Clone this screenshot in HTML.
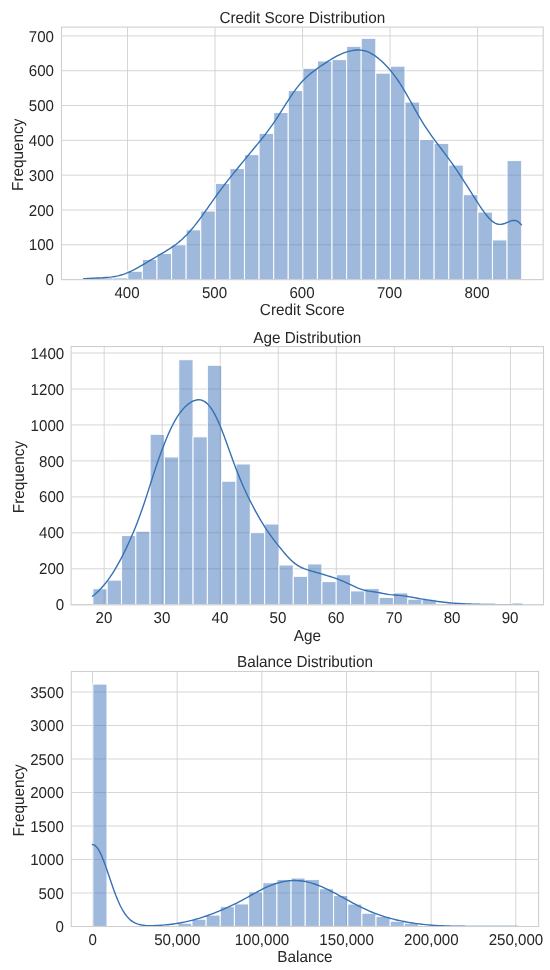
<!DOCTYPE html>
<html><head><meta charset="utf-8"><title>Distributions</title>
<style>
html,body{margin:0;padding:0;background:#fff;}
body{width:550px;height:970px;overflow:hidden;}
svg{display:block;font-family:"Liberation Sans",sans-serif;fill:#262626;text-rendering:geometricPrecision;}
</style></head><body>
<svg width="550" height="970" viewBox="0 0 550 970">
<rect width="550" height="970" fill="#ffffff"/>
<g>
<clipPath id="clip1"><rect x="61.50" y="27.10" width="481.70" height="252.50"/></clipPath>
<line x1="127.50" y1="27.10" x2="127.50" y2="279.60" stroke="#cfcfcf" stroke-width="0.85"/>
<line x1="215.02" y1="27.10" x2="215.02" y2="279.60" stroke="#cfcfcf" stroke-width="0.85"/>
<line x1="302.55" y1="27.10" x2="302.55" y2="279.60" stroke="#cfcfcf" stroke-width="0.85"/>
<line x1="390.07" y1="27.10" x2="390.07" y2="279.60" stroke="#cfcfcf" stroke-width="0.85"/>
<line x1="477.60" y1="27.10" x2="477.60" y2="279.60" stroke="#cfcfcf" stroke-width="0.85"/>
<line x1="61.50" y1="279.60" x2="543.20" y2="279.60" stroke="#cfcfcf" stroke-width="0.85"/>
<line x1="61.50" y1="244.79" x2="543.20" y2="244.79" stroke="#cfcfcf" stroke-width="0.85"/>
<line x1="61.50" y1="209.97" x2="543.20" y2="209.97" stroke="#cfcfcf" stroke-width="0.85"/>
<line x1="61.50" y1="175.16" x2="543.20" y2="175.16" stroke="#cfcfcf" stroke-width="0.85"/>
<line x1="61.50" y1="140.34" x2="543.20" y2="140.34" stroke="#cfcfcf" stroke-width="0.85"/>
<line x1="61.50" y1="105.53" x2="543.20" y2="105.53" stroke="#cfcfcf" stroke-width="0.85"/>
<line x1="61.50" y1="70.72" x2="543.20" y2="70.72" stroke="#cfcfcf" stroke-width="0.85"/>
<line x1="61.50" y1="35.90" x2="543.20" y2="35.90" stroke="#cfcfcf" stroke-width="0.85"/>
<rect x="84.04" y="277.86" width="14.59" height="1.74" fill="#3D73B7" fill-opacity="0.5" stroke="#ffffff" stroke-opacity="0.9" stroke-width="1.1"/>
<rect x="98.63" y="277.86" width="14.59" height="1.74" fill="#3D73B7" fill-opacity="0.5" stroke="#ffffff" stroke-opacity="0.9" stroke-width="1.1"/>
<rect x="113.21" y="277.86" width="14.59" height="1.74" fill="#3D73B7" fill-opacity="0.5" stroke="#ffffff" stroke-opacity="0.9" stroke-width="1.1"/>
<rect x="127.80" y="271.24" width="14.59" height="8.36" fill="#3D73B7" fill-opacity="0.5" stroke="#ffffff" stroke-opacity="0.9" stroke-width="1.1"/>
<rect x="142.39" y="259.41" width="14.59" height="20.19" fill="#3D73B7" fill-opacity="0.5" stroke="#ffffff" stroke-opacity="0.9" stroke-width="1.1"/>
<rect x="156.98" y="253.49" width="14.59" height="26.11" fill="#3D73B7" fill-opacity="0.5" stroke="#ffffff" stroke-opacity="0.9" stroke-width="1.1"/>
<rect x="171.56" y="244.79" width="14.59" height="34.81" fill="#3D73B7" fill-opacity="0.5" stroke="#ffffff" stroke-opacity="0.9" stroke-width="1.1"/>
<rect x="186.15" y="229.82" width="14.59" height="49.78" fill="#3D73B7" fill-opacity="0.5" stroke="#ffffff" stroke-opacity="0.9" stroke-width="1.1"/>
<rect x="200.74" y="211.02" width="14.59" height="68.58" fill="#3D73B7" fill-opacity="0.5" stroke="#ffffff" stroke-opacity="0.9" stroke-width="1.1"/>
<rect x="215.32" y="183.51" width="14.59" height="96.09" fill="#3D73B7" fill-opacity="0.5" stroke="#ffffff" stroke-opacity="0.9" stroke-width="1.1"/>
<rect x="229.91" y="168.54" width="14.59" height="111.06" fill="#3D73B7" fill-opacity="0.5" stroke="#ffffff" stroke-opacity="0.9" stroke-width="1.1"/>
<rect x="244.50" y="154.62" width="14.59" height="124.98" fill="#3D73B7" fill-opacity="0.5" stroke="#ffffff" stroke-opacity="0.9" stroke-width="1.1"/>
<rect x="259.09" y="133.38" width="14.59" height="146.22" fill="#3D73B7" fill-opacity="0.5" stroke="#ffffff" stroke-opacity="0.9" stroke-width="1.1"/>
<rect x="273.68" y="112.49" width="14.59" height="167.11" fill="#3D73B7" fill-opacity="0.5" stroke="#ffffff" stroke-opacity="0.9" stroke-width="1.1"/>
<rect x="288.26" y="90.56" width="14.59" height="189.04" fill="#3D73B7" fill-opacity="0.5" stroke="#ffffff" stroke-opacity="0.9" stroke-width="1.1"/>
<rect x="302.85" y="68.28" width="14.59" height="211.32" fill="#3D73B7" fill-opacity="0.5" stroke="#ffffff" stroke-opacity="0.9" stroke-width="1.1"/>
<rect x="317.44" y="60.97" width="14.59" height="218.63" fill="#3D73B7" fill-opacity="0.5" stroke="#ffffff" stroke-opacity="0.9" stroke-width="1.1"/>
<rect x="332.03" y="59.58" width="14.59" height="220.02" fill="#3D73B7" fill-opacity="0.5" stroke="#ffffff" stroke-opacity="0.9" stroke-width="1.1"/>
<rect x="346.61" y="46.35" width="14.59" height="233.25" fill="#3D73B7" fill-opacity="0.5" stroke="#ffffff" stroke-opacity="0.9" stroke-width="1.1"/>
<rect x="361.20" y="38.34" width="14.59" height="241.26" fill="#3D73B7" fill-opacity="0.5" stroke="#ffffff" stroke-opacity="0.9" stroke-width="1.1"/>
<rect x="375.79" y="73.15" width="14.59" height="206.45" fill="#3D73B7" fill-opacity="0.5" stroke="#ffffff" stroke-opacity="0.9" stroke-width="1.1"/>
<rect x="390.38" y="66.19" width="14.59" height="213.41" fill="#3D73B7" fill-opacity="0.5" stroke="#ffffff" stroke-opacity="0.9" stroke-width="1.1"/>
<rect x="404.96" y="102.05" width="14.59" height="177.55" fill="#3D73B7" fill-opacity="0.5" stroke="#ffffff" stroke-opacity="0.9" stroke-width="1.1"/>
<rect x="419.55" y="139.65" width="14.59" height="139.95" fill="#3D73B7" fill-opacity="0.5" stroke="#ffffff" stroke-opacity="0.9" stroke-width="1.1"/>
<rect x="434.14" y="143.48" width="14.59" height="136.12" fill="#3D73B7" fill-opacity="0.5" stroke="#ffffff" stroke-opacity="0.9" stroke-width="1.1"/>
<rect x="448.73" y="165.06" width="14.59" height="114.54" fill="#3D73B7" fill-opacity="0.5" stroke="#ffffff" stroke-opacity="0.9" stroke-width="1.1"/>
<rect x="463.31" y="194.65" width="14.59" height="84.95" fill="#3D73B7" fill-opacity="0.5" stroke="#ffffff" stroke-opacity="0.9" stroke-width="1.1"/>
<rect x="477.90" y="212.06" width="14.59" height="67.54" fill="#3D73B7" fill-opacity="0.5" stroke="#ffffff" stroke-opacity="0.9" stroke-width="1.1"/>
<rect x="492.49" y="239.91" width="14.59" height="39.69" fill="#3D73B7" fill-opacity="0.5" stroke="#ffffff" stroke-opacity="0.9" stroke-width="1.1"/>
<rect x="507.08" y="160.54" width="14.59" height="119.06" fill="#3D73B7" fill-opacity="0.5" stroke="#ffffff" stroke-opacity="0.9" stroke-width="1.1"/>
<polyline clip-path="url(#clip1)" points="83.74,278.72 85.94,278.60 88.14,278.49 90.33,278.38 92.53,278.27 94.73,278.17 96.93,278.06 99.13,277.95 101.33,277.84 103.53,277.71 105.73,277.55 107.93,277.36 110.13,277.13 112.33,276.85 114.53,276.50 116.72,276.09 118.92,275.59 121.12,275.01 123.32,274.33 125.52,273.57 127.72,272.71 129.92,271.76 132.12,270.73 134.32,269.63 136.52,268.46 138.72,267.23 140.91,265.96 143.11,264.66 145.31,263.35 147.51,262.02 149.71,260.70 151.91,259.38 154.11,258.07 156.31,256.77 158.51,255.48 160.71,254.18 162.91,252.88 165.10,251.56 167.30,250.21 169.50,248.82 171.70,247.36 173.90,245.84 176.10,244.22 178.30,242.50 180.50,240.66 182.70,238.70 184.90,236.61 187.10,234.39 189.30,232.02 191.49,229.52 193.69,226.89 195.89,224.14 198.09,221.28 200.29,218.33 202.49,215.29 204.69,212.20 206.89,209.07 209.09,205.93 211.29,202.78 213.49,199.66 215.68,196.57 217.88,193.53 220.08,190.55 222.28,187.62 224.48,184.74 226.68,181.92 228.88,179.13 231.08,176.38 233.28,173.65 235.48,170.94 237.68,168.23 239.88,165.53 242.07,162.83 244.27,160.14 246.47,157.45 248.67,154.78 250.87,152.11 253.07,149.45 255.27,146.79 257.47,144.13 259.67,141.44 261.87,138.72 264.07,135.96 266.26,133.12 268.46,130.20 270.66,127.19 272.86,124.07 275.06,120.85 277.26,117.53 279.46,114.14 281.66,110.68 283.86,107.19 286.06,103.71 288.26,100.27 290.45,96.91 292.65,93.66 294.85,90.56 297.05,87.63 299.25,84.88 301.45,82.33 303.65,79.97 305.85,77.79 308.05,75.77 310.25,73.90 312.45,72.13 314.65,70.46 316.84,68.86 319.04,67.30 321.24,65.79 323.44,64.30 325.64,62.84 327.84,61.41 330.04,60.02 332.24,58.68 334.44,57.41 336.64,56.21 338.84,55.10 341.03,54.08 343.23,53.17 345.43,52.36 347.63,51.65 349.83,51.06 352.03,50.59 354.23,50.25 356.43,50.04 358.63,50.00 360.83,50.12 363.03,50.44 365.22,50.96 367.42,51.69 369.62,52.64 371.82,53.79 374.02,55.15 376.22,56.69 378.42,58.41 380.62,60.28 382.82,62.29 385.02,64.45 387.22,66.75 389.42,69.20 391.61,71.82 393.81,74.61 396.01,77.58 398.21,80.75 400.41,84.10 402.61,87.62 404.81,91.31 407.01,95.11 409.21,99.01 411.41,102.95 413.61,106.90 415.80,110.83 418.00,114.68 420.20,118.44 422.40,122.09 424.60,125.60 426.80,128.98 429.00,132.23 431.20,135.37 433.40,138.40 435.60,141.36 437.80,144.26 440.00,147.15 442.19,150.03 444.39,152.93 446.59,155.86 448.79,158.86 450.99,161.91 453.19,165.02 455.39,168.21 457.59,171.45 459.79,174.76 461.99,178.12 464.19,181.52 466.38,184.95 468.58,188.41 470.78,191.89 472.98,195.36 475.18,198.82 477.38,202.24 479.58,205.59 481.78,208.83 483.98,211.93 486.18,214.82 488.38,217.45 490.57,219.74 492.77,221.63 494.97,223.06 497.17,223.98 499.37,224.38 501.57,224.30 503.77,223.79 505.97,222.98 508.17,222.03 510.37,221.15 512.57,220.55 514.77,220.44 516.96,221.02 519.16,222.42 521.36,224.72" fill="none" stroke="#3671B3" stroke-width="1.4" stroke-linejoin="round" stroke-linecap="round"/>
<rect x="61.50" y="27.10" width="481.70" height="252.50" fill="none" stroke="#cfcfcf" stroke-width="1.1"/>
<text transform="translate(127.00,298.40) scale(1,1.04)" font-size="15.1" text-anchor="middle">400</text>
<text transform="translate(214.52,298.40) scale(1,1.04)" font-size="15.1" text-anchor="middle">500</text>
<text transform="translate(302.05,298.40) scale(1,1.04)" font-size="15.1" text-anchor="middle">600</text>
<text transform="translate(389.57,298.40) scale(1,1.04)" font-size="15.1" text-anchor="middle">700</text>
<text transform="translate(477.10,298.40) scale(1,1.04)" font-size="15.1" text-anchor="middle">800</text>
<text transform="translate(54.00,285.22) scale(1,1.04)" font-size="15.1" text-anchor="end">0</text>
<text transform="translate(54.00,250.41) scale(1,1.04)" font-size="15.1" text-anchor="end">100</text>
<text transform="translate(54.00,215.59) scale(1,1.04)" font-size="15.1" text-anchor="end">200</text>
<text transform="translate(54.00,180.78) scale(1,1.04)" font-size="15.1" text-anchor="end">300</text>
<text transform="translate(54.00,145.97) scale(1,1.04)" font-size="15.1" text-anchor="end">400</text>
<text transform="translate(54.00,111.15) scale(1,1.04)" font-size="15.1" text-anchor="end">500</text>
<text transform="translate(54.00,76.34) scale(1,1.04)" font-size="15.1" text-anchor="end">600</text>
<text transform="translate(54.00,41.52) scale(1,1.04)" font-size="15.1" text-anchor="end">700</text>
<text transform="translate(302.35,22.60) scale(1,1.04)" font-size="15.3" text-anchor="middle">Credit Score Distribution</text>
<text transform="translate(302.35,315.30) scale(1,1.04)" font-size="15.3" text-anchor="middle">Credit Score</text>
<text transform="translate(22.90,154.75) rotate(-90) scale(1,1.04)" font-size="15.3" text-anchor="middle">Frequency</text>
</g>
<g>
<clipPath id="clip2"><rect x="71.10" y="346.55" width="472.40" height="258.20"/></clipPath>
<line x1="104.18" y1="346.55" x2="104.18" y2="604.75" stroke="#cfcfcf" stroke-width="0.85"/>
<line x1="162.21" y1="346.55" x2="162.21" y2="604.75" stroke="#cfcfcf" stroke-width="0.85"/>
<line x1="220.25" y1="346.55" x2="220.25" y2="604.75" stroke="#cfcfcf" stroke-width="0.85"/>
<line x1="278.28" y1="346.55" x2="278.28" y2="604.75" stroke="#cfcfcf" stroke-width="0.85"/>
<line x1="336.32" y1="346.55" x2="336.32" y2="604.75" stroke="#cfcfcf" stroke-width="0.85"/>
<line x1="394.35" y1="346.55" x2="394.35" y2="604.75" stroke="#cfcfcf" stroke-width="0.85"/>
<line x1="452.39" y1="346.55" x2="452.39" y2="604.75" stroke="#cfcfcf" stroke-width="0.85"/>
<line x1="510.42" y1="346.55" x2="510.42" y2="604.75" stroke="#cfcfcf" stroke-width="0.85"/>
<line x1="71.10" y1="604.75" x2="543.50" y2="604.75" stroke="#cfcfcf" stroke-width="0.85"/>
<line x1="71.10" y1="568.79" x2="543.50" y2="568.79" stroke="#cfcfcf" stroke-width="0.85"/>
<line x1="71.10" y1="532.83" x2="543.50" y2="532.83" stroke="#cfcfcf" stroke-width="0.85"/>
<line x1="71.10" y1="496.87" x2="543.50" y2="496.87" stroke="#cfcfcf" stroke-width="0.85"/>
<line x1="71.10" y1="460.91" x2="543.50" y2="460.91" stroke="#cfcfcf" stroke-width="0.85"/>
<line x1="71.10" y1="424.95" x2="543.50" y2="424.95" stroke="#cfcfcf" stroke-width="0.85"/>
<line x1="71.10" y1="388.99" x2="543.50" y2="388.99" stroke="#cfcfcf" stroke-width="0.85"/>
<line x1="71.10" y1="353.03" x2="543.50" y2="353.03" stroke="#cfcfcf" stroke-width="0.85"/>
<rect x="92.87" y="588.75" width="14.32" height="16.00" fill="#3D73B7" fill-opacity="0.5" stroke="#ffffff" stroke-opacity="0.9" stroke-width="1.1"/>
<rect x="107.19" y="580.12" width="14.32" height="24.63" fill="#3D73B7" fill-opacity="0.5" stroke="#ffffff" stroke-opacity="0.9" stroke-width="1.1"/>
<rect x="121.50" y="535.53" width="14.32" height="69.22" fill="#3D73B7" fill-opacity="0.5" stroke="#ffffff" stroke-opacity="0.9" stroke-width="1.1"/>
<rect x="135.82" y="531.21" width="14.32" height="73.54" fill="#3D73B7" fill-opacity="0.5" stroke="#ffffff" stroke-opacity="0.9" stroke-width="1.1"/>
<rect x="150.13" y="434.30" width="14.32" height="170.45" fill="#3D73B7" fill-opacity="0.5" stroke="#ffffff" stroke-opacity="0.9" stroke-width="1.1"/>
<rect x="164.45" y="456.95" width="14.32" height="147.80" fill="#3D73B7" fill-opacity="0.5" stroke="#ffffff" stroke-opacity="0.9" stroke-width="1.1"/>
<rect x="178.76" y="359.68" width="14.32" height="245.07" fill="#3D73B7" fill-opacity="0.5" stroke="#ffffff" stroke-opacity="0.9" stroke-width="1.1"/>
<rect x="193.08" y="436.82" width="14.32" height="167.93" fill="#3D73B7" fill-opacity="0.5" stroke="#ffffff" stroke-opacity="0.9" stroke-width="1.1"/>
<rect x="207.39" y="365.26" width="14.32" height="239.49" fill="#3D73B7" fill-opacity="0.5" stroke="#ffffff" stroke-opacity="0.9" stroke-width="1.1"/>
<rect x="221.71" y="481.23" width="14.32" height="123.52" fill="#3D73B7" fill-opacity="0.5" stroke="#ffffff" stroke-opacity="0.9" stroke-width="1.1"/>
<rect x="236.02" y="463.97" width="14.32" height="140.78" fill="#3D73B7" fill-opacity="0.5" stroke="#ffffff" stroke-opacity="0.9" stroke-width="1.1"/>
<rect x="250.34" y="532.65" width="14.32" height="72.10" fill="#3D73B7" fill-opacity="0.5" stroke="#ffffff" stroke-opacity="0.9" stroke-width="1.1"/>
<rect x="264.65" y="524.02" width="14.32" height="80.73" fill="#3D73B7" fill-opacity="0.5" stroke="#ffffff" stroke-opacity="0.9" stroke-width="1.1"/>
<rect x="278.97" y="565.01" width="14.32" height="39.74" fill="#3D73B7" fill-opacity="0.5" stroke="#ffffff" stroke-opacity="0.9" stroke-width="1.1"/>
<rect x="293.28" y="576.34" width="14.32" height="28.41" fill="#3D73B7" fill-opacity="0.5" stroke="#ffffff" stroke-opacity="0.9" stroke-width="1.1"/>
<rect x="307.60" y="563.94" width="14.32" height="40.81" fill="#3D73B7" fill-opacity="0.5" stroke="#ffffff" stroke-opacity="0.9" stroke-width="1.1"/>
<rect x="321.92" y="581.56" width="14.32" height="23.19" fill="#3D73B7" fill-opacity="0.5" stroke="#ffffff" stroke-opacity="0.9" stroke-width="1.1"/>
<rect x="336.23" y="574.72" width="14.32" height="30.03" fill="#3D73B7" fill-opacity="0.5" stroke="#ffffff" stroke-opacity="0.9" stroke-width="1.1"/>
<rect x="350.55" y="590.91" width="14.32" height="13.84" fill="#3D73B7" fill-opacity="0.5" stroke="#ffffff" stroke-opacity="0.9" stroke-width="1.1"/>
<rect x="364.86" y="588.57" width="14.32" height="16.18" fill="#3D73B7" fill-opacity="0.5" stroke="#ffffff" stroke-opacity="0.9" stroke-width="1.1"/>
<rect x="379.18" y="597.38" width="14.32" height="7.37" fill="#3D73B7" fill-opacity="0.5" stroke="#ffffff" stroke-opacity="0.9" stroke-width="1.1"/>
<rect x="393.49" y="592.88" width="14.32" height="11.87" fill="#3D73B7" fill-opacity="0.5" stroke="#ffffff" stroke-opacity="0.9" stroke-width="1.1"/>
<rect x="407.81" y="599.18" width="14.32" height="5.57" fill="#3D73B7" fill-opacity="0.5" stroke="#ffffff" stroke-opacity="0.9" stroke-width="1.1"/>
<rect x="422.12" y="599.36" width="14.32" height="5.39" fill="#3D73B7" fill-opacity="0.5" stroke="#ffffff" stroke-opacity="0.9" stroke-width="1.1"/>
<polyline clip-path="url(#clip2)" points="92.57,596.21 94.73,594.44 96.89,592.53 99.05,590.46 101.20,588.23 103.36,585.82 105.52,583.22 107.68,580.42 109.84,577.41 112.00,574.19 114.15,570.77 116.31,567.16 118.47,563.35 120.63,559.37 122.79,555.22 124.94,550.89 127.10,546.38 129.26,541.70 131.42,536.83 133.58,531.75 135.73,526.45 137.89,520.90 140.05,515.10 142.21,509.02 144.37,502.68 146.52,496.13 148.68,489.44 150.84,482.68 153.00,475.96 155.16,469.35 157.31,462.93 159.47,456.74 161.63,450.81 163.79,445.15 165.95,439.77 168.10,434.68 170.26,429.91 172.42,425.48 174.58,421.41 176.74,417.72 178.90,414.40 181.05,411.45 183.21,408.86 185.37,406.59 187.53,404.65 189.69,403.03 191.84,401.71 194.00,400.71 196.16,400.06 198.32,399.78 200.48,399.92 202.63,400.53 204.79,401.67 206.95,403.35 209.11,405.62 211.27,408.48 213.42,411.91 215.58,415.90 217.74,420.39 219.90,425.35 222.06,430.70 224.21,436.36 226.37,442.24 228.53,448.25 230.69,454.28 232.85,460.24 235.00,466.07 237.16,471.71 239.32,477.12 241.48,482.30 243.64,487.24 245.80,491.96 247.95,496.47 250.11,500.82 252.27,505.01 254.43,509.08 256.59,513.04 258.74,516.88 260.90,520.59 263.06,524.16 265.22,527.58 267.38,530.85 269.53,533.97 271.69,536.95 273.85,539.83 276.01,542.61 278.17,545.34 280.32,548.01 282.48,550.63 284.64,553.20 286.80,555.67 288.96,558.01 291.11,560.19 293.27,562.16 295.43,563.90 297.59,565.40 299.75,566.68 301.90,567.75 304.06,568.65 306.22,569.44 308.38,570.14 310.54,570.79 312.70,571.41 314.85,572.02 317.01,572.63 319.17,573.24 321.33,573.86 323.49,574.50 325.64,575.14 327.80,575.81 329.96,576.49 332.12,577.19 334.28,577.91 336.43,578.67 338.59,579.46 340.75,580.30 342.91,581.19 345.07,582.12 347.22,583.10 349.38,584.12 351.54,585.15 353.70,586.18 355.86,587.18 358.01,588.11 360.17,588.94 362.33,589.65 364.49,590.24 366.65,590.71 368.80,591.09 370.96,591.41 373.12,591.72 375.28,592.04 377.44,592.40 379.60,592.79 381.75,593.21 383.91,593.62 386.07,594.01 388.23,594.35 390.39,594.63 392.54,594.86 394.70,595.05 396.86,595.22 399.02,595.40 401.18,595.61 403.33,595.85 405.49,596.15 407.65,596.49 409.81,596.86 411.97,597.25 414.12,597.65 416.28,598.05 418.44,598.44 420.60,598.82 422.76,599.18 424.91,599.52 427.07,599.85 429.23,600.18 431.39,600.50 433.55,600.82 435.70,601.13 437.86,601.44 440.02,601.74 442.18,602.03 444.34,602.30 446.50,602.55 448.65,602.77 450.81,602.96 452.97,603.13 455.13,603.29 457.29,603.43 459.44,603.56 461.60,603.68 463.76,603.78 465.92,603.88 468.08,603.96 470.23,604.04 472.39,604.11 474.55,604.17 476.71,604.22 478.87,604.28 481.02,604.34 483.18,604.39 485.34,604.44 487.50,604.48 489.66,604.52 491.81,604.54 493.97,604.57 496.13,604.58 498.29,604.60 500.45,604.60 502.60,604.61 504.76,604.61 506.92,604.61 509.08,604.60 511.24,604.59 513.40,604.57 515.55,604.56 517.71,604.54 519.87,604.53 522.03,604.53" fill="none" stroke="#3671B3" stroke-width="1.4" stroke-linejoin="round" stroke-linecap="round"/>
<rect x="71.10" y="346.55" width="472.40" height="258.20" fill="none" stroke="#cfcfcf" stroke-width="1.1"/>
<text transform="translate(103.88,623.00) scale(1,1.04)" font-size="15.1" text-anchor="middle">20</text>
<text transform="translate(161.91,623.00) scale(1,1.04)" font-size="15.1" text-anchor="middle">30</text>
<text transform="translate(219.95,623.00) scale(1,1.04)" font-size="15.1" text-anchor="middle">40</text>
<text transform="translate(277.98,623.00) scale(1,1.04)" font-size="15.1" text-anchor="middle">50</text>
<text transform="translate(336.02,623.00) scale(1,1.04)" font-size="15.1" text-anchor="middle">60</text>
<text transform="translate(394.05,623.00) scale(1,1.04)" font-size="15.1" text-anchor="middle">70</text>
<text transform="translate(452.09,623.00) scale(1,1.04)" font-size="15.1" text-anchor="middle">80</text>
<text transform="translate(510.12,623.00) scale(1,1.04)" font-size="15.1" text-anchor="middle">90</text>
<text transform="translate(64.20,610.37) scale(1,1.04)" font-size="15.1" text-anchor="end">0</text>
<text transform="translate(64.20,574.41) scale(1,1.04)" font-size="15.1" text-anchor="end">200</text>
<text transform="translate(64.20,538.45) scale(1,1.04)" font-size="15.1" text-anchor="end">400</text>
<text transform="translate(64.20,502.49) scale(1,1.04)" font-size="15.1" text-anchor="end">600</text>
<text transform="translate(64.20,466.53) scale(1,1.04)" font-size="15.1" text-anchor="end">800</text>
<text transform="translate(64.20,430.57) scale(1,1.04)" font-size="15.1" text-anchor="end">1000</text>
<text transform="translate(64.20,394.61) scale(1,1.04)" font-size="15.1" text-anchor="end">1200</text>
<text transform="translate(64.20,358.65) scale(1,1.04)" font-size="15.1" text-anchor="end">1400</text>
<text transform="translate(307.30,342.60) scale(1,1.04)" font-size="15.3" text-anchor="middle">Age Distribution</text>
<text transform="translate(307.30,640.60) scale(1,1.04)" font-size="15.3" text-anchor="middle">Age</text>
<text transform="translate(24.10,477.05) rotate(-90) scale(1,1.04)" font-size="15.3" text-anchor="middle">Frequency</text>
</g>
<g>
<clipPath id="clip3"><rect x="71.30" y="671.50" width="467.30" height="255.00"/></clipPath>
<line x1="92.54" y1="671.50" x2="92.54" y2="926.50" stroke="#cfcfcf" stroke-width="0.85"/>
<line x1="177.20" y1="671.50" x2="177.20" y2="926.50" stroke="#cfcfcf" stroke-width="0.85"/>
<line x1="261.86" y1="671.50" x2="261.86" y2="926.50" stroke="#cfcfcf" stroke-width="0.85"/>
<line x1="346.52" y1="671.50" x2="346.52" y2="926.50" stroke="#cfcfcf" stroke-width="0.85"/>
<line x1="431.18" y1="671.50" x2="431.18" y2="926.50" stroke="#cfcfcf" stroke-width="0.85"/>
<line x1="515.84" y1="671.50" x2="515.84" y2="926.50" stroke="#cfcfcf" stroke-width="0.85"/>
<line x1="71.30" y1="926.50" x2="538.60" y2="926.50" stroke="#cfcfcf" stroke-width="0.85"/>
<line x1="71.30" y1="893.00" x2="538.60" y2="893.00" stroke="#cfcfcf" stroke-width="0.85"/>
<line x1="71.30" y1="859.50" x2="538.60" y2="859.50" stroke="#cfcfcf" stroke-width="0.85"/>
<line x1="71.30" y1="826.00" x2="538.60" y2="826.00" stroke="#cfcfcf" stroke-width="0.85"/>
<line x1="71.30" y1="792.50" x2="538.60" y2="792.50" stroke="#cfcfcf" stroke-width="0.85"/>
<line x1="71.30" y1="759.00" x2="538.60" y2="759.00" stroke="#cfcfcf" stroke-width="0.85"/>
<line x1="71.30" y1="725.50" x2="538.60" y2="725.50" stroke="#cfcfcf" stroke-width="0.85"/>
<line x1="71.30" y1="692.00" x2="538.60" y2="692.00" stroke="#cfcfcf" stroke-width="0.85"/>
<rect x="92.84" y="684.09" width="14.16" height="242.41" fill="#3D73B7" fill-opacity="0.5" stroke="#ffffff" stroke-opacity="0.9" stroke-width="1.1"/>
<rect x="177.80" y="923.22" width="14.16" height="3.28" fill="#3D73B7" fill-opacity="0.5" stroke="#ffffff" stroke-opacity="0.9" stroke-width="1.1"/>
<rect x="191.97" y="919.20" width="14.16" height="7.30" fill="#3D73B7" fill-opacity="0.5" stroke="#ffffff" stroke-opacity="0.9" stroke-width="1.1"/>
<rect x="206.13" y="915.11" width="14.16" height="11.39" fill="#3D73B7" fill-opacity="0.5" stroke="#ffffff" stroke-opacity="0.9" stroke-width="1.1"/>
<rect x="220.29" y="906.60" width="14.16" height="19.90" fill="#3D73B7" fill-opacity="0.5" stroke="#ffffff" stroke-opacity="0.9" stroke-width="1.1"/>
<rect x="234.45" y="903.92" width="14.16" height="22.58" fill="#3D73B7" fill-opacity="0.5" stroke="#ffffff" stroke-opacity="0.9" stroke-width="1.1"/>
<rect x="248.61" y="891.79" width="14.16" height="34.71" fill="#3D73B7" fill-opacity="0.5" stroke="#ffffff" stroke-opacity="0.9" stroke-width="1.1"/>
<rect x="262.77" y="882.75" width="14.16" height="43.75" fill="#3D73B7" fill-opacity="0.5" stroke="#ffffff" stroke-opacity="0.9" stroke-width="1.1"/>
<rect x="276.93" y="879.53" width="14.16" height="46.97" fill="#3D73B7" fill-opacity="0.5" stroke="#ffffff" stroke-opacity="0.9" stroke-width="1.1"/>
<rect x="291.09" y="878.06" width="14.16" height="48.44" fill="#3D73B7" fill-opacity="0.5" stroke="#ffffff" stroke-opacity="0.9" stroke-width="1.1"/>
<rect x="305.25" y="879.53" width="14.16" height="46.97" fill="#3D73B7" fill-opacity="0.5" stroke="#ffffff" stroke-opacity="0.9" stroke-width="1.1"/>
<rect x="319.41" y="888.71" width="14.16" height="37.79" fill="#3D73B7" fill-opacity="0.5" stroke="#ffffff" stroke-opacity="0.9" stroke-width="1.1"/>
<rect x="333.57" y="895.48" width="14.16" height="31.02" fill="#3D73B7" fill-opacity="0.5" stroke="#ffffff" stroke-opacity="0.9" stroke-width="1.1"/>
<rect x="347.73" y="904.05" width="14.16" height="22.45" fill="#3D73B7" fill-opacity="0.5" stroke="#ffffff" stroke-opacity="0.9" stroke-width="1.1"/>
<rect x="361.89" y="913.23" width="14.16" height="13.27" fill="#3D73B7" fill-opacity="0.5" stroke="#ffffff" stroke-opacity="0.9" stroke-width="1.1"/>
<rect x="376.05" y="916.45" width="14.16" height="10.05" fill="#3D73B7" fill-opacity="0.5" stroke="#ffffff" stroke-opacity="0.9" stroke-width="1.1"/>
<rect x="390.21" y="921.21" width="14.16" height="5.29" fill="#3D73B7" fill-opacity="0.5" stroke="#ffffff" stroke-opacity="0.9" stroke-width="1.1"/>
<rect x="404.37" y="923.22" width="14.16" height="3.28" fill="#3D73B7" fill-opacity="0.5" stroke="#ffffff" stroke-opacity="0.9" stroke-width="1.1"/>
<polyline clip-path="url(#clip3)" points="92.54,844.59 94.68,845.25 96.81,847.21 98.95,850.36 101.08,854.58 103.21,859.65 105.35,865.37 107.48,871.50 109.62,877.81 111.75,884.09 113.89,890.15 116.02,895.84 118.16,901.05 120.29,905.71 122.43,909.77 124.56,913.24 126.70,916.15 128.83,918.52 130.97,920.43 133.10,921.92 135.24,923.07 137.37,923.93 139.51,924.55 141.64,925.00 143.78,925.29 145.91,925.48 148.04,925.59 150.18,925.62 152.31,925.61 154.45,925.57 156.58,925.48 158.72,925.38 160.85,925.24 162.99,925.09 165.12,924.91 167.26,924.70 169.39,924.48 171.53,924.22 173.66,923.94 175.80,923.64 177.93,923.30 180.07,922.94 182.20,922.54 184.34,922.12 186.47,921.67 188.61,921.18 190.74,920.67 192.87,920.12 195.01,919.55 197.14,918.94 199.28,918.30 201.41,917.64 203.55,916.94 205.68,916.22 207.82,915.47 209.95,914.69 212.09,913.89 214.22,913.06 216.36,912.22 218.49,911.35 220.63,910.46 222.76,909.55 224.90,908.62 227.03,907.67 229.17,906.69 231.30,905.69 233.44,904.67 235.57,903.62 237.70,902.54 239.84,901.44 241.97,900.31 244.11,899.16 246.24,897.99 248.38,896.81 250.51,895.62 252.65,894.42 254.78,893.24 256.92,892.07 259.05,890.92 261.19,889.81 263.32,888.73 265.46,887.70 267.59,886.73 269.73,885.82 271.86,884.97 274.00,884.19 276.13,883.48 278.27,882.85 280.40,882.29 282.53,881.81 284.67,881.40 286.80,881.07 288.94,880.81 291.07,880.64 293.21,880.55 295.34,880.53 297.48,880.60 299.61,880.74 301.75,880.97 303.88,881.28 306.02,881.67 308.15,882.14 310.29,882.69 312.42,883.31 314.56,884.01 316.69,884.77 318.83,885.59 320.96,886.46 323.10,887.39 325.23,888.37 327.37,889.38 329.50,890.43 331.63,891.51 333.77,892.61 335.90,893.74 338.04,894.88 340.17,896.03 342.31,897.19 344.44,898.36 346.58,899.53 348.71,900.70 350.85,901.86 352.98,903.01 355.12,904.14 357.25,905.26 359.39,906.35 361.52,907.42 363.66,908.45 365.79,909.45 367.93,910.42 370.06,911.35 372.20,912.24 374.33,913.09 376.46,913.91 378.60,914.68 380.73,915.42 382.87,916.13 385.00,916.80 387.14,917.44 389.27,918.05 391.41,918.63 393.54,919.18 395.68,919.71 397.81,920.21 399.95,920.68 402.08,921.13 404.22,921.56 406.35,921.96 408.49,922.35 410.62,922.70 412.76,923.04 414.89,923.36 417.03,923.65 419.16,923.93 421.29,924.18 423.43,924.42 425.56,924.63 427.70,924.83 429.83,925.02 431.97,925.18 434.10,925.33 436.24,925.47 438.37,925.59 440.51,925.69 442.64,925.79 444.78,925.88 446.91,925.95 449.05,926.02 451.18,926.08 453.32,926.13 455.45,926.18 457.59,926.22 459.72,926.26 461.86,926.29 463.99,926.32 466.12,926.34 468.26,926.37 470.39,926.39 472.53,926.40 474.66,926.42 476.80,926.43 478.93,926.44 481.07,926.45 483.20,926.46 485.34,926.46 487.47,926.47 489.61,926.47 491.74,926.47 493.88,926.47 496.01,926.47 498.15,926.48 500.28,926.48 502.42,926.48 504.55,926.48 506.69,926.48 508.82,926.48 510.95,926.48 513.09,926.48 515.22,926.48 517.36,926.48" fill="none" stroke="#3671B3" stroke-width="1.4" stroke-linejoin="round" stroke-linecap="round"/>
<rect x="71.30" y="671.50" width="467.30" height="255.00" fill="none" stroke="#cfcfcf" stroke-width="1.1"/>
<text transform="translate(92.64,944.90) scale(1,1.04)" font-size="15.1" text-anchor="middle">0</text>
<text transform="translate(177.30,944.90) scale(1,1.04)" font-size="15.1" text-anchor="middle">50,000</text>
<text transform="translate(261.96,944.90) scale(1,1.04)" font-size="15.1" text-anchor="middle">100,000</text>
<text transform="translate(346.62,944.90) scale(1,1.04)" font-size="15.1" text-anchor="middle">150,000</text>
<text transform="translate(431.28,944.90) scale(1,1.04)" font-size="15.1" text-anchor="middle">200,000</text>
<text transform="translate(515.94,944.90) scale(1,1.04)" font-size="15.1" text-anchor="middle">250,000</text>
<text transform="translate(63.80,932.12) scale(1,1.04)" font-size="15.1" text-anchor="end">0</text>
<text transform="translate(63.80,898.62) scale(1,1.04)" font-size="15.1" text-anchor="end">500</text>
<text transform="translate(63.80,865.12) scale(1,1.04)" font-size="15.1" text-anchor="end">1000</text>
<text transform="translate(63.80,831.62) scale(1,1.04)" font-size="15.1" text-anchor="end">1500</text>
<text transform="translate(63.80,798.12) scale(1,1.04)" font-size="15.1" text-anchor="end">2000</text>
<text transform="translate(63.80,764.62) scale(1,1.04)" font-size="15.1" text-anchor="end">2500</text>
<text transform="translate(63.80,731.12) scale(1,1.04)" font-size="15.1" text-anchor="end">3000</text>
<text transform="translate(63.80,697.62) scale(1,1.04)" font-size="15.1" text-anchor="end">3500</text>
<text transform="translate(304.95,666.90) scale(1,1.04)" font-size="15.3" text-anchor="middle">Balance Distribution</text>
<text transform="translate(304.95,962.10) scale(1,1.04)" font-size="15.3" text-anchor="middle">Balance</text>
<text transform="translate(24.10,800.40) rotate(-90) scale(1,1.04)" font-size="15.3" text-anchor="middle">Frequency</text>
</g>
</svg>
</body></html>
